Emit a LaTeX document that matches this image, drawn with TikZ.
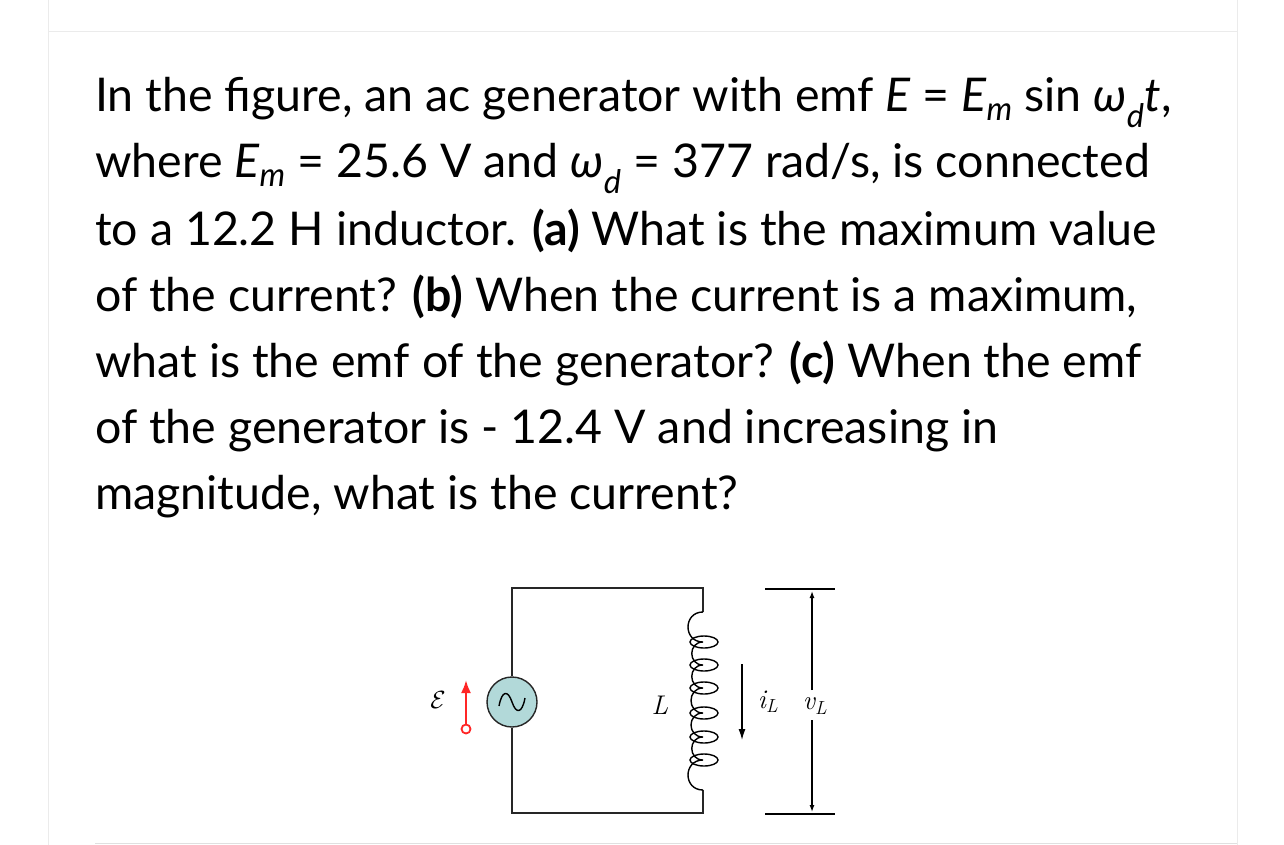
\documentclass[tikz,border=0pt]{standalone}
\usepackage{fontspec}
\setmainfont{Lato}
\usetikzlibrary{arrows.meta}
\begin{document}
\begin{tikzpicture}[x=1pt,y=-1pt,
  txt/.style={anchor=base west,inner sep=0pt,font=\fontsize{46.5}{52}\selectfont},
  wire/.style={line width=1.8pt,black!85},
  lab/.style={font=\fontfamily{lmr}\itshape\fontsize{27}{30}\selectfont,inner sep=0pt}]
\useasboundingbox (0,0) rectangle (1284,845);
\draw[black!8,line width=1pt] (48,32) -- (1237,32);
\draw[black!8,line width=1pt] (48,0) -- (48,845) (1237,0) -- (1237,845);
\draw[black!12,line width=1pt] (95,843) -- (1237,843);
\node[txt] (l1) at (95,112) {In the figure, an ac generator with emf \textit{E} = \textit{E\textsubscript{m}} sin \textit{ω\textsubscript{d}t},};
\node[txt] (l2) at (95,178) {where \textit{E\textsubscript{m}} = 25.6 V and \textit{ω\textsubscript{d}} = 377 rad/s, is connected};
\node[txt] (l3) at (95,245) {to a 12.2 H inductor. \textbf{(a)} What is the maximum value};
\node[txt] (l4) at (95,311) {of the current? \textbf{(b)} When the current is a maximum,};
\node[txt] (l5) at (95,377) {what is the emf of the generator? \textbf{(c)} When the emf};
\node[txt] (l6) at (95,443) {of the generator is - 12.4 V and increasing in};
\node[txt] (l7) at (95,509) {magnitude, what is the current?};
% circuit
\node[circle,draw=black!85,line width=1.4pt,fill=teal!30,minimum size=50pt,inner sep=0pt] (g) at (512,702) {};
\draw[line width=1.4pt] (499,706) .. controls (502,690) and (508,690) .. (512,702) .. controls (516,714) and (522,714) .. (525,698);
\coordinate (tl) at (512,588); \coordinate (tr) at (703,588);
\coordinate (bl) at (512,813); \coordinate (br) at (703,813);
\coordinate (ct) at (703,612); \coordinate (cb) at (703,790);
\draw[wire] (g.north) -- (tl) -- (tr) -- (ct);
\draw[wire] (g.south) -- (bl) -- (br) -- (cb);
% coil
\draw[line width=1.4pt] (ct)
  .. controls (683,612) and (683,642) .. (703,642)
  .. controls (688,642) and (688,665) .. (703,665)
  .. controls (688,665) and (688,688) .. (703,688)
  .. controls (687,688) and (687,713) .. (703,713)
  .. controls (687,713) and (687,737) .. (703,737)
  .. controls (688,737) and (688,760) .. (703,760)
  .. controls (683,760) and (683,790) .. (cb);
\foreach \yy in {642,665,688,713,737,760} \draw[line width=1.4pt] (704,\yy) ellipse (14pt and 6pt);
\node[lab] (L) at (660,705) {L};
\node[lab] (iL) at (768,702) {i\textsubscript{L}};
\node[lab] (vL) at (815,706) {v\textsubscript{L}};
\coordinate (a1) at (742,664); \coordinate (a2) at (742,740);
\draw[line width=1.3pt,-{Latex[length=11pt,width=7pt]}] (a1) -- (a2);
\coordinate (t1) at (765,589); \coordinate (t2) at (835,589);
\coordinate (b1) at (765,814); \coordinate (b2) at (835,814);
\draw[line width=1.6pt] (t1) -- (t2) (b1) -- (b2);
\draw[line width=1.3pt,-{Latex[length=7pt,width=5pt]}] (812,690) -- (812,591);
\draw[line width=1.3pt,-{Latex[length=7pt,width=5pt]}] (812,720) -- (812,812);
% emf symbol
\node[font=\fontsize{30}{32}\selectfont,inner sep=0pt] (E) at (438,700) {$\mathcal{E}$};
\node[circle,draw=red!85,line width=1.8pt,inner sep=0pt,minimum size=9pt] (ec) at (466,729) {};
\coordinate (et) at (466,680);
\draw[red!85,line width=2.2pt,-{Latex[length=13pt,width=10pt]}] (ec.north) -- (et);
\end{tikzpicture}
\end{document}
